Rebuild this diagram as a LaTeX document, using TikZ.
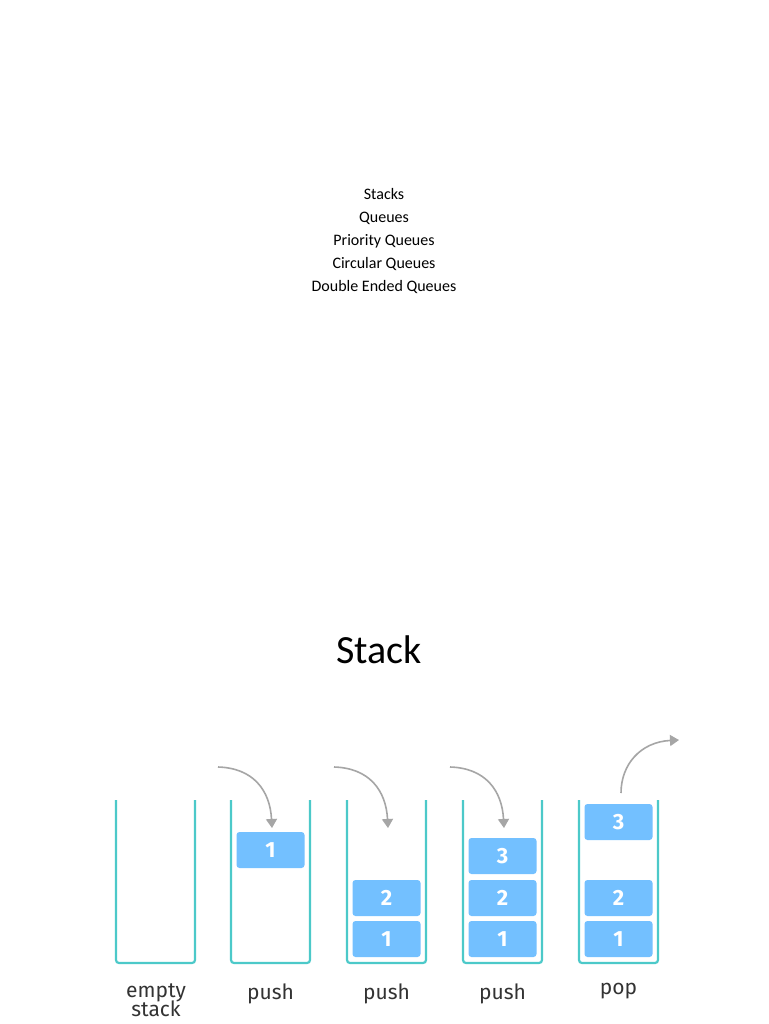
\documentclass[tikz,border=0pt]{standalone}
\usepackage{fontspec}
\setmainfont{Carlito}
\newfontfamily\labelfont{Fira Sans}
\usetikzlibrary{arrows.meta}
\tikzset{
    container/.style = {
        draw=teal!60!cyan!70, line width=2.2pt, rounded corners=3pt,
        },
    item/.style = {
        fill=blue!45!cyan!55, draw=none, rounded corners=3pt,
        minimum width=68pt, minimum height=36pt,
        text=white, font=\labelfont\bfseries\fontsize{22}{24}\selectfont,
        },
    caption/.style = {
        font=\labelfont\fontsize{21}{23}\selectfont, text=black!80,
        },
    move/.style = {
        draw=gray!70, line width=1.6pt, -{Triangle[length=9pt,width=11pt]},
        },
}
\begin{document}
\begin{tikzpicture}[x=1pt,y=-1pt]
    \useasboundingbox[fill=white] (0,0) rectangle (768,1024);
    \node[align=center, font=\fontsize{16}{23.2}\selectfont] (list) at (384,241)
        {Stacks\\Queues\\Priority Queues\\Circular Queues\\Double Ended Queues};
    \node[font=\fontsize{40}{44}\selectfont] (title) at (379,650) {Stack};

    % containers
    \foreach \x/\n in {116/s0,231/s1,347/s2,463/s3,579/s4} {
        \draw[container] (\x,800) -- (\x,963) -- (\x+79,963) -- (\x+79,800);
        \coordinate (\n) at (\x+39.5,0);
    }

    % items
    \node[item] (a1) at (270.5,850) {1};
    \node[item] (b2) at (386.5,898) {2};
    \node[item] (b1) at (386.5,939) {1};
    \node[item] (c3) at (502.5,856) {3};
    \node[item] (c2) at (502.5,898) {2};
    \node[item] (c1) at (502.5,939) {1};
    \node[item] (d3) at (618.5,822) {3};
    \node[item] (d2) at (618.5,898) {2};
    \node[item] (d1) at (618.5,939) {1};

    % arrows
    \foreach \x in {218,334,450} {
        \coordinate (p\x) at (\x,767);
        \coordinate (q\x) at (\x+54,828);
        \draw[move] (p\x) .. controls (\x+35,768) and (\x+52,790) .. (q\x);
    }
    \coordinate (r0) at (621,793);
    \coordinate (r1) at (679,740);
    \draw[move] (r0) .. controls (621,765) and (640,742) .. (r1);

    % captions
    \node[caption, align=center, anchor=north] (l0) at (156,980) {empty\\[-4pt]stack};
    \node[caption, anchor=north] (l1) at (270.5,980) {push};
    \node[caption, anchor=north] (l2) at (386.5,980) {push};
    \node[caption, anchor=north] (l3) at (502.5,980) {push};
    \node[caption, anchor=north] (l4) at (618.5,980) {pop};
\end{tikzpicture}
\end{document}
